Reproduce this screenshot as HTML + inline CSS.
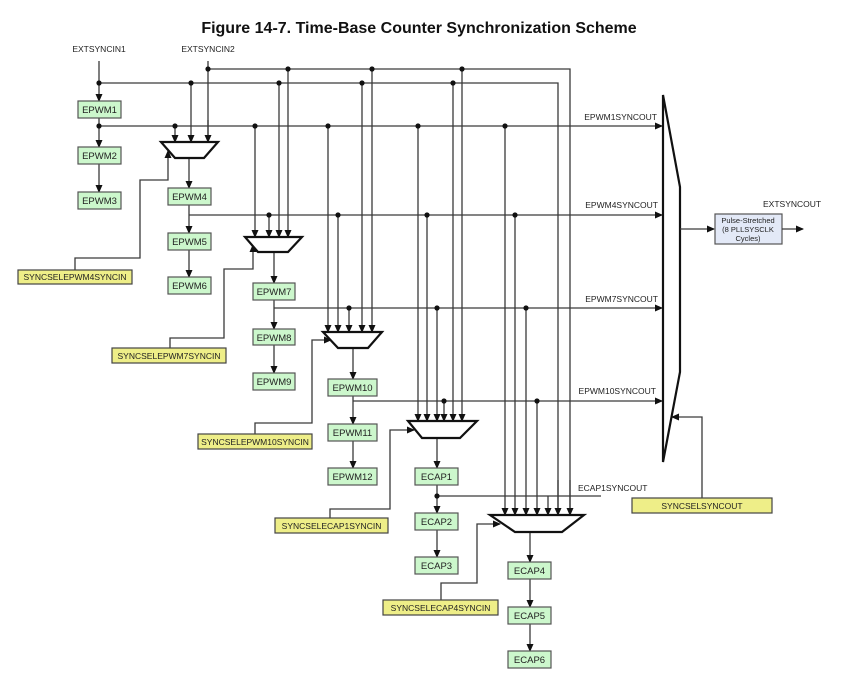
<!DOCTYPE html>
<html><head><meta charset="utf-8"><style>
html,body{margin:0;padding:0;background:#fff;}
svg{display:block;font-family:"Liberation Sans",sans-serif;}
.l{stroke:#3a3a3a;stroke-width:1.3;fill:none;}
.m{stroke:#111;stroke-width:2.2;fill:#fff;}
.g{fill:#ccf7cc;stroke:#555;stroke-width:1.2;}
.y{fill:#eeee88;stroke:#444;stroke-width:1.2;}
.t{font-size:9.5px;fill:#222;text-anchor:middle;}
.s{font-size:8.5px;fill:#222;}
</style></head><body>
<svg width="868" height="678" viewBox="0 0 868 678" xmlns="http://www.w3.org/2000/svg">
<defs>
<marker id="a" markerWidth="8" markerHeight="8" refX="7" refY="4" orient="auto" markerUnits="userSpaceOnUse"><path d="M0,0.5 L8,4 L0,7.5 z" fill="#111"/></marker>
</defs>
<text x="419" y="33" font-size="16" font-weight="bold" text-anchor="middle" fill="#111">Figure 14-7. Time-Base Counter Synchronization Scheme</text>
<text x="99" y="52" class="s" text-anchor="middle">EXTSYNCIN1</text>
<text x="208" y="52" class="s" text-anchor="middle">EXTSYNCIN2</text>

<path class="l" d="M208,61 V142 M208,69 H570 V515"/>
<path class="l" marker-end="url(#a)" d="M208,120 V142"/>
<path class="l" marker-end="url(#a)" d="M288,69 V237"/>
<path class="l" marker-end="url(#a)" d="M372,69 V332"/>
<path class="l" marker-end="url(#a)" d="M462,69 V421"/>
<path class="l" marker-end="url(#a)" d="M570,480 V515"/>
<path class="l" marker-end="url(#a)" d="M99,61 V101"/>
<path class="l" d="M99,83 H558 V515"/>
<path class="l" marker-end="url(#a)" d="M191,83 V142"/>
<path class="l" marker-end="url(#a)" d="M279,83 V237"/>
<path class="l" marker-end="url(#a)" d="M362,83 V332"/>
<path class="l" marker-end="url(#a)" d="M453,83 V421"/>
<path class="l" marker-end="url(#a)" d="M558,480 V515"/>
<path class="l" marker-end="url(#a)" d="M99,118 V147"/>
<path class="l" marker-end="url(#a)" d="M99,164 V192"/>
<path class="l" marker-end="url(#a)" d="M99,126 H662"/>
<path class="l" marker-end="url(#a)" d="M175,126 V142"/>
<path class="l" marker-end="url(#a)" d="M255,126 V237"/>
<path class="l" marker-end="url(#a)" d="M328,126 V332"/>
<path class="l" marker-end="url(#a)" d="M418,126 V421"/>
<path class="l" marker-end="url(#a)" d="M505,126 V515"/>
<path class="l" marker-end="url(#a)" d="M189,158 V188"/>
<path class="l" marker-end="url(#a)" d="M189,205 V233"/>
<path class="l" marker-end="url(#a)" d="M189,250 V277"/>
<path class="l" marker-end="url(#a)" d="M189,215 H662"/>
<path class="l" marker-end="url(#a)" d="M269,215 V237"/>
<path class="l" marker-end="url(#a)" d="M338,215 V332"/>
<path class="l" marker-end="url(#a)" d="M427,215 V421"/>
<path class="l" marker-end="url(#a)" d="M515,215 V515"/>
<path class="l" marker-end="url(#a)" d="M274,252 V283"/>
<path class="l" marker-end="url(#a)" d="M274,300 V329"/>
<path class="l" marker-end="url(#a)" d="M274,345 V373"/>
<path class="l" marker-end="url(#a)" d="M274,308 H662"/>
<path class="l" marker-end="url(#a)" d="M349,308 V332"/>
<path class="l" marker-end="url(#a)" d="M437,308 V421"/>
<path class="l" marker-end="url(#a)" d="M526,308 V515"/>
<path class="l" marker-end="url(#a)" d="M353,348 V379"/>
<path class="l" marker-end="url(#a)" d="M353,396 V424"/>
<path class="l" marker-end="url(#a)" d="M353,441 V468"/>
<path class="l" marker-end="url(#a)" d="M353,401 H662"/>
<path class="l" marker-end="url(#a)" d="M444,401 V421"/>
<path class="l" marker-end="url(#a)" d="M537,401 V515"/>
<path class="l" marker-end="url(#a)" d="M437,438 V468"/>
<path class="l" marker-end="url(#a)" d="M437,485 V513"/>
<path class="l" marker-end="url(#a)" d="M437,530 V557"/>
<path class="l" d="M437,496 H601"/>
<path class="l" marker-end="url(#a)" d="M548,496 V515"/>
<path class="l" marker-end="url(#a)" d="M530,532 V562"/>
<path class="l" marker-end="url(#a)" d="M530,579 V607"/>
<path class="l" marker-end="url(#a)" d="M530,624 V651"/>

<g fill="#111">
<circle cx="208" cy="69" r="2.6"/><circle cx="288" cy="69" r="2.6"/><circle cx="372" cy="69" r="2.6"/><circle cx="462" cy="69" r="2.6"/>
<circle cx="99" cy="83" r="2.6"/><circle cx="191" cy="83" r="2.6"/><circle cx="279" cy="83" r="2.6"/><circle cx="362" cy="83" r="2.6"/><circle cx="453" cy="83" r="2.6"/>
<circle cx="99" cy="126" r="2.6"/><circle cx="175" cy="126" r="2.6"/><circle cx="255" cy="126" r="2.6"/><circle cx="328" cy="126" r="2.6"/><circle cx="418" cy="126" r="2.6"/><circle cx="505" cy="126" r="2.6"/>
<circle cx="269" cy="215" r="2.6"/><circle cx="338" cy="215" r="2.6"/><circle cx="427" cy="215" r="2.6"/><circle cx="515" cy="215" r="2.6"/>
<circle cx="349" cy="308" r="2.6"/><circle cx="437" cy="308" r="2.6"/><circle cx="526" cy="308" r="2.6"/>
<circle cx="444" cy="401" r="2.6"/><circle cx="537" cy="401" r="2.6"/>
<circle cx="437" cy="496" r="2.6"/>
</g>

<path class="l" marker-end="url(#a)" d="M75,270 V258 H140 V180 H168 V151"/>
<path class="l" marker-end="url(#a)" d="M170,348 V338 H224 V269 H253 V245"/>
<path class="l" marker-end="url(#a)" d="M255,434 V423 H312 V340 H331"/>
<path class="l" marker-end="url(#a)" d="M330,518 V509 H390 V430 H414"/>
<path class="l" marker-end="url(#a)" d="M441,600 V583 H477 V524 H500"/>
<path class="l" marker-end="url(#a)" d="M702,498 V417 H672"/>

<polygon class="m" points="161,142 218,142 204,158 175,158"/>
<polygon class="m" points="245,237 302,237 288,252 258,252"/>
<polygon class="m" points="323,332 382,332 368,348 338,348"/>
<polygon class="m" points="408,421 477,421 460,438 422,438"/>
<polygon class="m" points="490,515 584,515 562,532 515,532"/>
<polygon class="m" points="663,95 680,187 680,372 663,462" stroke-width="2.6"/>

<path class="l" marker-end="url(#a)" d="M680,229 H714"/>
<rect x="715" y="214" width="67" height="30" fill="#e3e9f7" stroke="#555" stroke-width="1.2"/>
<text x="748" y="223" font-size="7.5" text-anchor="middle" fill="#222">Pulse-Stretched</text>
<text x="748" y="232" font-size="7.5" text-anchor="middle" fill="#222">(8 PLLSYSCLK</text>
<text x="748" y="241" font-size="7.5" text-anchor="middle" fill="#222">Cycles)</text>
<path class="l" marker-end="url(#a)" d="M782,229 H803"/>
<text x="763" y="207" class="s">EXTSYNCOUT</text>

<g class="s" text-anchor="end">
<text x="657" y="120">EPWM1SYNCOUT</text>
<text x="658" y="208">EPWM4SYNCOUT</text>
<text x="658" y="302">EPWM7SYNCOUT</text>
<text x="656" y="394">EPWM10SYNCOUT</text>
</g>
<text x="578" y="491" class="s">ECAP1SYNCOUT</text>

<g>
<rect class="g" x="78" y="101" width="43" height="17"/><text class="t" x="99.5" y="113">EPWM1</text>
<rect class="g" x="78" y="147" width="43" height="17"/><text class="t" x="99.5" y="159">EPWM2</text>
<rect class="g" x="78" y="192" width="43" height="17"/><text class="t" x="99.5" y="204">EPWM3</text>
<rect class="g" x="168" y="188" width="43" height="17"/><text class="t" x="189.5" y="200">EPWM4</text>
<rect class="g" x="168" y="233" width="43" height="17"/><text class="t" x="189.5" y="245">EPWM5</text>
<rect class="g" x="168" y="277" width="43" height="17"/><text class="t" x="189.5" y="289">EPWM6</text>
<rect class="g" x="253" y="283" width="42" height="17"/><text class="t" x="274" y="295">EPWM7</text>
<rect class="g" x="253" y="329" width="42" height="16"/><text class="t" x="274" y="341">EPWM8</text>
<rect class="g" x="253" y="373" width="42" height="17"/><text class="t" x="274" y="385">EPWM9</text>
<rect class="g" x="328" y="379" width="49" height="17"/><text class="t" x="352.5" y="391">EPWM10</text>
<rect class="g" x="328" y="424" width="49" height="17"/><text class="t" x="352.5" y="436">EPWM11</text>
<rect class="g" x="328" y="468" width="49" height="17"/><text class="t" x="352.5" y="480">EPWM12</text>
<rect class="g" x="415" y="468" width="43" height="17"/><text class="t" x="436.5" y="480">ECAP1</text>
<rect class="g" x="415" y="513" width="43" height="17"/><text class="t" x="436.5" y="525">ECAP2</text>
<rect class="g" x="415" y="557" width="43" height="17"/><text class="t" x="436.5" y="569">ECAP3</text>
<rect class="g" x="508" y="562" width="43" height="17"/><text class="t" x="529.5" y="574">ECAP4</text>
<rect class="g" x="508" y="607" width="43" height="17"/><text class="t" x="529.5" y="619">ECAP5</text>
<rect class="g" x="508" y="651" width="43" height="17"/><text class="t" x="529.5" y="663">ECAP6</text>
</g>
<g>
<rect class="y" x="18" y="270" width="114" height="14"/><text class="t" style="font-size:8.5px" x="75" y="280">SYNCSELEPWM4SYNCIN</text>
<rect class="y" x="112" y="348" width="114" height="15"/><text class="t" style="font-size:8.5px" x="169" y="359">SYNCSELEPWM7SYNCIN</text>
<rect class="y" x="198" y="434" width="114" height="15"/><text class="t" style="font-size:8.5px" x="255" y="445">SYNCSELEPWM10SYNCIN</text>
<rect class="y" x="275" y="518" width="113" height="15"/><text class="t" style="font-size:8.5px" x="331.5" y="529">SYNCSELECAP1SYNCIN</text>
<rect class="y" x="383" y="600" width="115" height="15"/><text class="t" style="font-size:8.5px" x="440.5" y="611">SYNCSELECAP4SYNCIN</text>
<rect class="y" x="632" y="498" width="140" height="15"/><text class="t" style="font-size:8.5px" x="702" y="509">SYNCSELSYNCOUT</text>
</g>
</svg>
</body></html>
